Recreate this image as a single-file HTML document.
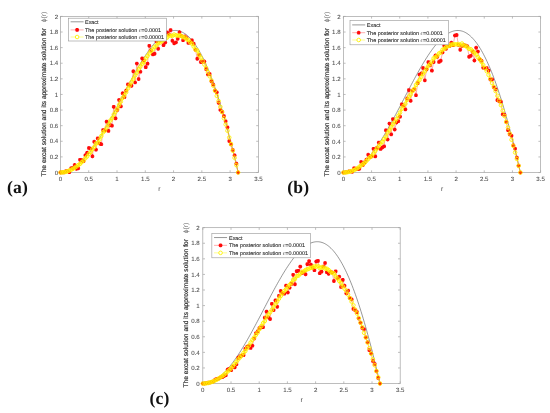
<!DOCTYPE html>
<html><head><meta charset="utf-8"><title>Figure</title>
<style>
html,body{margin:0;padding:0;background:#fff;}
body{width:550px;height:413px;overflow:hidden;}
svg{display:block;}
text{font-family:"Liberation Sans",sans-serif;fill:#3a3a3a;stroke:#3a3a3a;stroke-width:0.18px;text-rendering:geometricPrecision;}
.tl text{font-size:6.1px;fill:#505050;stroke:#505050;stroke-width:0.07px;}
.al{font-size:6.66px;fill:#2a2a2a;stroke:#2a2a2a;stroke-width:0.17px;}
.xl{fill:#444;stroke:none;}
.lg text{font-size:5.45px;fill:#222;stroke-width:0.1px;}
.phi{fill:#606060;stroke:none;}
.eps{font-style:italic;fill:#666;stroke:none;}
.pl{font-family:"Liberation Serif",serif;font-weight:bold;font-size:17.6px;fill:#111;letter-spacing:0.15px;stroke:none;}
</style></head><body>
<svg width="550" height="413" viewBox="0 0 550 413">
<defs>
<path id="st" d="M-1.9 0h3.8M0-1.9v3.8M-1.4-1.4l2.8 2.8M-1.4 1.4l2.8-2.8" stroke-width="1.1" fill="none"/>
</defs>
<rect width="550" height="413" fill="#fff"/>
<rect x="60.45" y="16.4" width="197.95" height="156.1" fill="#fff" stroke="#a8a8a8" stroke-width="0.75"/>
<path d="M60.45 172.5v-2.2M60.45 16.4v2.2M88.73 172.5v-2.2M88.73 16.4v2.2M117.01 172.5v-2.2M117.01 16.4v2.2M145.29 172.5v-2.2M145.29 16.4v2.2M173.56 172.5v-2.2M173.56 16.4v2.2M201.84 172.5v-2.2M201.84 16.4v2.2M230.12 172.5v-2.2M230.12 16.4v2.2M258.4 172.5v-2.2M258.4 16.4v2.2M60.45 172.5h2.2M258.4 172.5h-2.2M60.45 156.89h2.2M258.4 156.89h-2.2M60.45 141.28h2.2M258.4 141.28h-2.2M60.45 125.67h2.2M258.4 125.67h-2.2M60.45 110.06h2.2M258.4 110.06h-2.2M60.45 94.45h2.2M258.4 94.45h-2.2M60.45 78.84h2.2M258.4 78.84h-2.2M60.45 63.23h2.2M258.4 63.23h-2.2M60.45 47.62h2.2M258.4 47.62h-2.2M60.45 32.01h2.2M258.4 32.01h-2.2M60.45 16.4h2.2M258.4 16.4h-2.2" stroke="#a8a8a8" stroke-width="0.75" fill="none"/>
<g class="tl">
<text x="60.45" y="181.1" text-anchor="middle">0</text>
<text x="88.73" y="181.1" text-anchor="middle">0.5</text>
<text x="117.01" y="181.1" text-anchor="middle">1</text>
<text x="145.29" y="181.1" text-anchor="middle">1.5</text>
<text x="173.56" y="181.1" text-anchor="middle">2</text>
<text x="201.84" y="181.1" text-anchor="middle">2.5</text>
<text x="230.12" y="181.1" text-anchor="middle">3</text>
<text x="258.4" y="181.1" text-anchor="middle">3.5</text>
<text x="58.25" y="174.7" text-anchor="end">0</text>
<text x="58.25" y="159.09" text-anchor="end">0.2</text>
<text x="58.25" y="143.48" text-anchor="end">0.4</text>
<text x="58.25" y="127.87" text-anchor="end">0.6</text>
<text x="58.25" y="112.26" text-anchor="end">0.8</text>
<text x="58.25" y="96.65" text-anchor="end">1</text>
<text x="58.25" y="81.04" text-anchor="end">1.2</text>
<text x="58.25" y="65.43" text-anchor="end">1.4</text>
<text x="58.25" y="49.82" text-anchor="end">1.6</text>
<text x="58.25" y="34.21" text-anchor="end">1.8</text>
<text x="58.25" y="18.6" text-anchor="end">2</text>
</g>
<text class="al xl" x="159.42" y="190.5" text-anchor="middle">r</text>
<text class="al" transform="translate(45.65 176.4) rotate(-90)">The excat solution and its approximate solution for<tspan class="phi" dx="5.8">ϕ(r)</tspan></text>
<polyline points="60.45,172.5 61.57,172.47 62.68,172.38 63.8,172.23 64.92,172.01 66.04,171.74 67.15,171.41 68.27,171.01 69.39,170.56 70.51,170.04 71.62,169.47 72.74,168.84 73.86,168.15 74.98,167.41 76.09,166.6 77.21,165.74 78.33,164.83 79.45,163.86 80.56,162.83 81.68,161.76 82.8,160.63 83.92,159.44 85.03,158.21 86.15,156.93 87.27,155.6 88.39,154.22 89.5,152.8 90.62,151.33 91.74,149.81 92.86,148.25 93.97,146.65 95.09,145.01 96.21,143.34 97.33,141.62 98.44,139.87 99.56,138.08 100.68,136.26 101.8,134.4 102.91,132.52 104.03,130.61 105.15,128.67 106.27,126.7 107.38,124.71 108.5,122.7 109.62,120.66 110.74,118.61 111.85,116.54 112.97,114.46 114.09,112.36 115.21,110.25 116.32,108.12 117.44,105.99 118.56,103.86 119.68,101.72 120.79,99.57 121.91,97.43 123.03,95.28 124.15,93.14 125.26,91.01 126.38,88.88 127.5,86.75 128.62,84.64 129.73,82.55 130.85,80.46 131.97,78.4 133.09,76.35 134.2,74.32 135.32,72.31 136.44,70.33 137.56,68.37 138.67,66.45 139.79,64.55 140.91,62.68 142.03,60.85 143.14,59.05 144.26,57.3 145.38,55.58 146.5,53.9 147.61,52.27 148.73,50.68 149.85,49.13 150.97,47.64 152.08,46.2 153.2,44.81 154.32,43.47 155.44,42.19 156.55,40.97 157.67,39.8 158.79,38.7 159.91,37.66 161.02,36.68 162.14,35.77 163.26,34.93 164.38,34.15 165.49,33.45 166.61,32.81 167.73,32.25 168.85,31.77 169.96,31.35 171.08,31.02 172.2,30.76 173.32,30.59 174.43,30.49 175.55,30.48 176.67,30.54 177.79,30.7 178.9,30.93 180.02,31.26 181.14,31.66 182.26,32.16 183.37,32.75 184.49,33.42 185.61,34.18 186.73,35.04 187.84,35.98 188.96,37.02 190.08,38.15 191.2,39.37 192.31,40.69 193.43,42.1 194.55,43.6 195.67,45.19 196.78,46.89 197.9,48.67 199.02,50.55 200.14,52.52 201.25,54.59 202.37,56.76 203.49,59.01 204.61,61.36 205.72,63.81 206.84,66.35 207.96,68.98 209.07,71.71 210.19,74.52 211.31,77.43 212.43,80.44 213.54,83.53 214.66,86.71 215.78,89.98 216.9,93.34 218.01,96.79 219.13,100.32 220.25,103.94 221.37,107.64 222.48,111.43 223.6,115.3 224.72,119.25 225.84,123.28 226.95,127.39 228.07,131.58 229.19,135.84 230.31,140.18 231.42,144.59 232.54,149.08 233.66,153.63 234.78,158.25 235.89,162.93 237.01,167.69 238.13,172.5" fill="none" stroke="#505050" stroke-width="0.6"/>
<polyline points="60.45,172.5 62.23,172.4 64,172.32 65.78,171.23 67.56,171.04 69.33,172.09 71.11,168.18 72.89,167.97 74.66,164.93 76.44,168.75 78.22,168.29 79.99,159.81 81.77,160.04 83.55,161.21 85.33,155.2 87.1,152.9 88.88,147.95 90.66,148.57 92.43,156.24 94.21,141.69 95.99,149.67 97.76,138.36 99.54,143.57 101.32,144.2 103.09,130.07 104.87,130.36 106.65,121.64 108.42,130.88 110.2,125.08 111.98,125.68 113.75,106.83 115.53,118.36 117.31,110.02 119.08,99.92 120.86,106.37 122.64,93.21 124.41,97.11 126.19,90.65 127.97,84.4 129.75,85.21 131.52,85.8 133.3,71.24 135.08,82.44 136.85,63.53 138.63,79.05 140.41,71.72 142.18,58.4 143.96,60.41 145.74,67.16 147.51,63.6 149.29,45.8 151.07,50.34 152.84,54.41 154.62,53.74 156.4,41.15 158.17,48.79 159.95,40.54 161.73,32.4 163.5,45.09 165.28,42.49 167.06,32.37 168.83,34.21 170.61,30.03 172.39,40.73 174.16,43.32 175.94,42.42 177.72,38.74 179.5,32.18 181.27,35.99 183.05,40.18 184.83,36.41 186.6,37.97 188.38,42.88 190.16,42.35 191.93,40.25 193.71,43.72 195.49,49.82 197.26,58.77 199.04,54.89 200.82,62.02 202.59,61.64 204.37,61.48 206.15,69.12 207.92,74.45 209.7,73.97 211.48,81.38 213.25,84.51 215.03,90.45 216.81,92.33 218.58,102.77 220.36,109.84 222.14,111.88 223.92,116.09 225.69,121.2 227.47,127.35 229.25,140.98 231.02,144.35 232.8,149.96 234.58,155.34 236.35,163.53 238.13,172.5" fill="none" stroke="#ff3030" stroke-width="0.4"/>
<g stroke="#ff0a0a">
<use href="#st" x="60.45" y="172.5"/>
<use href="#st" x="62.23" y="172.4"/>
<use href="#st" x="64" y="172.32"/>
<use href="#st" x="65.78" y="171.23"/>
<use href="#st" x="67.56" y="171.04"/>
<use href="#st" x="69.33" y="172.09"/>
<use href="#st" x="71.11" y="168.18"/>
<use href="#st" x="72.89" y="167.97"/>
<use href="#st" x="74.66" y="164.93"/>
<use href="#st" x="76.44" y="168.75"/>
<use href="#st" x="78.22" y="168.29"/>
<use href="#st" x="79.99" y="159.81"/>
<use href="#st" x="81.77" y="160.04"/>
<use href="#st" x="83.55" y="161.21"/>
<use href="#st" x="85.33" y="155.2"/>
<use href="#st" x="87.1" y="152.9"/>
<use href="#st" x="88.88" y="147.95"/>
<use href="#st" x="90.66" y="148.57"/>
<use href="#st" x="92.43" y="156.24"/>
<use href="#st" x="94.21" y="141.69"/>
<use href="#st" x="95.99" y="149.67"/>
<use href="#st" x="97.76" y="138.36"/>
<use href="#st" x="99.54" y="143.57"/>
<use href="#st" x="101.32" y="144.2"/>
<use href="#st" x="103.09" y="130.07"/>
<use href="#st" x="104.87" y="130.36"/>
<use href="#st" x="106.65" y="121.64"/>
<use href="#st" x="108.42" y="130.88"/>
<use href="#st" x="110.2" y="125.08"/>
<use href="#st" x="111.98" y="125.68"/>
<use href="#st" x="113.75" y="106.83"/>
<use href="#st" x="115.53" y="118.36"/>
<use href="#st" x="117.31" y="110.02"/>
<use href="#st" x="119.08" y="99.92"/>
<use href="#st" x="120.86" y="106.37"/>
<use href="#st" x="122.64" y="93.21"/>
<use href="#st" x="124.41" y="97.11"/>
<use href="#st" x="126.19" y="90.65"/>
<use href="#st" x="127.97" y="84.4"/>
<use href="#st" x="129.75" y="85.21"/>
<use href="#st" x="131.52" y="85.8"/>
<use href="#st" x="133.3" y="71.24"/>
<use href="#st" x="135.08" y="82.44"/>
<use href="#st" x="136.85" y="63.53"/>
<use href="#st" x="138.63" y="79.05"/>
<use href="#st" x="140.41" y="71.72"/>
<use href="#st" x="142.18" y="58.4"/>
<use href="#st" x="143.96" y="60.41"/>
<use href="#st" x="145.74" y="67.16"/>
<use href="#st" x="147.51" y="63.6"/>
<use href="#st" x="149.29" y="45.8"/>
<use href="#st" x="151.07" y="50.34"/>
<use href="#st" x="152.84" y="54.41"/>
<use href="#st" x="154.62" y="53.74"/>
<use href="#st" x="156.4" y="41.15"/>
<use href="#st" x="158.17" y="48.79"/>
<use href="#st" x="159.95" y="40.54"/>
<use href="#st" x="161.73" y="32.4"/>
<use href="#st" x="163.5" y="45.09"/>
<use href="#st" x="165.28" y="42.49"/>
<use href="#st" x="167.06" y="32.37"/>
<use href="#st" x="168.83" y="34.21"/>
<use href="#st" x="170.61" y="30.03"/>
<use href="#st" x="172.39" y="40.73"/>
<use href="#st" x="174.16" y="43.32"/>
<use href="#st" x="175.94" y="42.42"/>
<use href="#st" x="177.72" y="38.74"/>
<use href="#st" x="179.5" y="32.18"/>
<use href="#st" x="181.27" y="35.99"/>
<use href="#st" x="183.05" y="40.18"/>
<use href="#st" x="184.83" y="36.41"/>
<use href="#st" x="186.6" y="37.97"/>
<use href="#st" x="188.38" y="42.88"/>
<use href="#st" x="190.16" y="42.35"/>
<use href="#st" x="191.93" y="40.25"/>
<use href="#st" x="193.71" y="43.72"/>
<use href="#st" x="195.49" y="49.82"/>
<use href="#st" x="197.26" y="58.77"/>
<use href="#st" x="199.04" y="54.89"/>
<use href="#st" x="200.82" y="62.02"/>
<use href="#st" x="202.59" y="61.64"/>
<use href="#st" x="204.37" y="61.48"/>
<use href="#st" x="206.15" y="69.12"/>
<use href="#st" x="207.92" y="74.45"/>
<use href="#st" x="209.7" y="73.97"/>
<use href="#st" x="211.48" y="81.38"/>
<use href="#st" x="213.25" y="84.51"/>
<use href="#st" x="215.03" y="90.45"/>
<use href="#st" x="216.81" y="92.33"/>
<use href="#st" x="218.58" y="102.77"/>
<use href="#st" x="220.36" y="109.84"/>
<use href="#st" x="222.14" y="111.88"/>
<use href="#st" x="223.92" y="116.09"/>
<use href="#st" x="225.69" y="121.2"/>
<use href="#st" x="227.47" y="127.35"/>
<use href="#st" x="229.25" y="140.98"/>
<use href="#st" x="231.02" y="144.35"/>
<use href="#st" x="232.8" y="149.96"/>
<use href="#st" x="234.58" y="155.34"/>
<use href="#st" x="236.35" y="163.53"/>
<use href="#st" x="238.13" y="172.5"/>
</g>
<polyline points="60.45,172.5 62.23,172.42 64,172.21 65.78,171.93 67.56,171.25 69.33,170.47 71.11,169.79 72.89,168.89 74.66,167.8 76.44,166.56 78.22,165.16 79.99,163.93 81.77,162.16 83.55,160.55 85.33,158.27 87.1,156.45 88.88,154 90.66,152.04 92.43,149.15 94.21,147.05 95.99,143.57 97.76,142.84 99.54,139.52 101.32,135.98 103.09,132.32 104.87,130.66 106.65,127.49 108.42,124.53 110.2,120.67 111.98,118.25 113.75,114.57 115.53,111.79 117.31,108.97 119.08,104.93 120.86,101.55 122.64,97.87 124.41,95.24 126.19,92.19 127.97,88.38 129.75,85.29 131.52,82.07 133.3,79.08 135.08,75.4 136.85,72.72 138.63,69.02 140.41,66.49 142.18,63.87 143.96,62.2 145.74,58.51 147.51,56.06 149.29,53.44 151.07,51.02 152.84,49.51 154.62,46.87 156.4,45.6 158.17,42.65 159.95,42.56 161.73,41.29 163.5,39.93 165.28,38.44 167.06,37.58 168.83,35.36 170.61,35.83 172.39,35.89 174.16,34.53 175.94,35.31 177.72,35.8 179.5,35.21 181.27,35.93 183.05,37.25 184.83,37.42 186.6,39.28 188.38,40.07 190.16,42.29 191.93,43.73 193.71,46.57 195.49,49.59 197.26,50.54 199.04,54.72 200.82,57.65" fill="none" stroke="#ffff00" stroke-width="2.4" stroke-opacity="0.4" stroke-linejoin="round" stroke-linecap="round"/>
<polyline points="60.45,172.5 62.23,172.42 64,172.21 65.78,171.93 67.56,171.25 69.33,170.47 71.11,169.79 72.89,168.89 74.66,167.8 76.44,166.56 78.22,165.16 79.99,163.93 81.77,162.16 83.55,160.55 85.33,158.27 87.1,156.45 88.88,154 90.66,152.04 92.43,149.15 94.21,147.05 95.99,143.57 97.76,142.84 99.54,139.52 101.32,135.98 103.09,132.32 104.87,130.66 106.65,127.49 108.42,124.53 110.2,120.67 111.98,118.25 113.75,114.57 115.53,111.79 117.31,108.97 119.08,104.93 120.86,101.55 122.64,97.87 124.41,95.24 126.19,92.19 127.97,88.38 129.75,85.29 131.52,82.07 133.3,79.08 135.08,75.4 136.85,72.72 138.63,69.02 140.41,66.49 142.18,63.87 143.96,62.2 145.74,58.51 147.51,56.06 149.29,53.44 151.07,51.02 152.84,49.51 154.62,46.87 156.4,45.6 158.17,42.65 159.95,42.56 161.73,41.29 163.5,39.93 165.28,38.44 167.06,37.58 168.83,35.36 170.61,35.83 172.39,35.89 174.16,34.53 175.94,35.31 177.72,35.8 179.5,35.21 181.27,35.93 183.05,37.25 184.83,37.42 186.6,39.28 188.38,40.07 190.16,42.29 191.93,43.73 193.71,46.57 195.49,49.59 197.26,50.54 199.04,54.72 200.82,57.65 202.59,61.14 204.37,64.5 206.15,68.14 207.92,72.17 209.7,76.3 211.48,80.53 213.25,85.61 215.03,90.75 216.81,95.86 218.58,101.08 220.36,106.84 222.14,112.07 223.92,118.3 225.69,124.41 227.47,130.69 229.25,137.52 231.02,144.12 232.8,150.7 234.58,157.8 236.35,165.16 238.13,172.5" fill="none" stroke="#ffff00" stroke-width="0.45"/>
<g fill="none" stroke="#fff200" stroke-width="0.9">
<circle cx="60.45" cy="172.5" r="1.8"/>
<circle cx="62.23" cy="172.42" r="1.8"/>
<circle cx="64" cy="172.21" r="1.8"/>
<circle cx="65.78" cy="171.93" r="1.8"/>
<circle cx="67.56" cy="171.25" r="1.8"/>
<circle cx="69.33" cy="170.47" r="1.8"/>
<circle cx="71.11" cy="169.79" r="1.8"/>
<circle cx="72.89" cy="168.89" r="1.8"/>
<circle cx="74.66" cy="167.8" r="1.8"/>
<circle cx="76.44" cy="166.56" r="1.8"/>
<circle cx="78.22" cy="165.16" r="1.8"/>
<circle cx="79.99" cy="163.93" r="1.8"/>
<circle cx="81.77" cy="162.16" r="1.8"/>
<circle cx="83.55" cy="160.55" r="1.8"/>
<circle cx="85.33" cy="158.27" r="1.8"/>
<circle cx="87.1" cy="156.45" r="1.8"/>
<circle cx="88.88" cy="154" r="1.8"/>
<circle cx="90.66" cy="152.04" r="1.8"/>
<circle cx="92.43" cy="149.15" r="1.8"/>
<circle cx="94.21" cy="147.05" r="1.8"/>
<circle cx="95.99" cy="143.57" r="1.8"/>
<circle cx="97.76" cy="142.84" r="1.8"/>
<circle cx="99.54" cy="139.52" r="1.8"/>
<circle cx="101.32" cy="135.98" r="1.8"/>
<circle cx="103.09" cy="132.32" r="1.8"/>
<circle cx="104.87" cy="130.66" r="1.8"/>
<circle cx="106.65" cy="127.49" r="1.8"/>
<circle cx="108.42" cy="124.53" r="1.8"/>
<circle cx="110.2" cy="120.67" r="1.8"/>
<circle cx="111.98" cy="118.25" r="1.8"/>
<circle cx="113.75" cy="114.57" r="1.8"/>
<circle cx="115.53" cy="111.79" r="1.8"/>
<circle cx="117.31" cy="108.97" r="1.8"/>
<circle cx="119.08" cy="104.93" r="1.8"/>
<circle cx="120.86" cy="101.55" r="1.8"/>
<circle cx="122.64" cy="97.87" r="1.8"/>
<circle cx="124.41" cy="95.24" r="1.8"/>
<circle cx="126.19" cy="92.19" r="1.8"/>
<circle cx="127.97" cy="88.38" r="1.8"/>
<circle cx="129.75" cy="85.29" r="1.8"/>
<circle cx="131.52" cy="82.07" r="1.8"/>
<circle cx="133.3" cy="79.08" r="1.8"/>
<circle cx="135.08" cy="75.4" r="1.8"/>
<circle cx="136.85" cy="72.72" r="1.8"/>
<circle cx="138.63" cy="69.02" r="1.8"/>
<circle cx="140.41" cy="66.49" r="1.8"/>
<circle cx="142.18" cy="63.87" r="1.8"/>
<circle cx="143.96" cy="62.2" r="1.8"/>
<circle cx="145.74" cy="58.51" r="1.8"/>
<circle cx="147.51" cy="56.06" r="1.8"/>
<circle cx="149.29" cy="53.44" r="1.8"/>
<circle cx="151.07" cy="51.02" r="1.8"/>
<circle cx="152.84" cy="49.51" r="1.8"/>
<circle cx="154.62" cy="46.87" r="1.8"/>
<circle cx="156.4" cy="45.6" r="1.8"/>
<circle cx="158.17" cy="42.65" r="1.8"/>
<circle cx="159.95" cy="42.56" r="1.8"/>
<circle cx="161.73" cy="41.29" r="1.8"/>
<circle cx="163.5" cy="39.93" r="1.8"/>
<circle cx="165.28" cy="38.44" r="1.8"/>
<circle cx="167.06" cy="37.58" r="1.8"/>
<circle cx="168.83" cy="35.36" r="1.8"/>
<circle cx="170.61" cy="35.83" r="1.8"/>
<circle cx="172.39" cy="35.89" r="1.8"/>
<circle cx="174.16" cy="34.53" r="1.8"/>
<circle cx="175.94" cy="35.31" r="1.8"/>
<circle cx="177.72" cy="35.8" r="1.8"/>
<circle cx="179.5" cy="35.21" r="1.8"/>
<circle cx="181.27" cy="35.93" r="1.8"/>
<circle cx="183.05" cy="37.25" r="1.8"/>
<circle cx="184.83" cy="37.42" r="1.8"/>
<circle cx="186.6" cy="39.28" r="1.8"/>
<circle cx="188.38" cy="40.07" r="1.8"/>
<circle cx="190.16" cy="42.29" r="1.8"/>
<circle cx="191.93" cy="43.73" r="1.8"/>
<circle cx="193.71" cy="46.57" r="1.8"/>
<circle cx="195.49" cy="49.59" r="1.8"/>
<circle cx="197.26" cy="50.54" r="1.8"/>
<circle cx="199.04" cy="54.72" r="1.8"/>
<circle cx="200.82" cy="57.65" r="1.8"/>
<circle cx="202.59" cy="61.14" r="1.8"/>
<circle cx="204.37" cy="64.5" r="1.8"/>
<circle cx="206.15" cy="68.14" r="1.8"/>
<circle cx="207.92" cy="72.17" r="1.8"/>
<circle cx="209.7" cy="76.3" r="1.8"/>
<circle cx="211.48" cy="80.53" r="1.8"/>
<circle cx="213.25" cy="85.61" r="1.8"/>
<circle cx="215.03" cy="90.75" r="1.8"/>
<circle cx="216.81" cy="95.86" r="1.8"/>
<circle cx="218.58" cy="101.08" r="1.8"/>
<circle cx="220.36" cy="106.84" r="1.8"/>
<circle cx="222.14" cy="112.07" r="1.8"/>
<circle cx="223.92" cy="118.3" r="1.8"/>
<circle cx="225.69" cy="124.41" r="1.8"/>
<circle cx="227.47" cy="130.69" r="1.8"/>
<circle cx="229.25" cy="137.52" r="1.8"/>
<circle cx="231.02" cy="144.12" r="1.8"/>
<circle cx="232.8" cy="150.7" r="1.8"/>
<circle cx="234.58" cy="157.8" r="1.8"/>
<circle cx="236.35" cy="165.16" r="1.8"/>
<circle cx="238.13" cy="172.5" r="1.8"/>
</g>
<rect x="68.4" y="18.2" width="97.9" height="22.8" fill="#fff" stroke="#959595" stroke-width="0.6"/>
<path d="M70.6 21.8h13.0" stroke="#505050" stroke-width="0.6"/>
<path d="M70.6 29.9h13.0" stroke="#ff3030" stroke-width="0.4"/>
<use href="#st" x="77.1" y="29.9" stroke="#ff0a0a"/>
<path d="M70.6 37h13.0" stroke="#ffff00" stroke-width="0.45"/>
<circle cx="77.1" cy="37" r="1.8" fill="#fff" stroke="#fff200" stroke-width="0.9"/>
<g class="lg">
<text x="85" y="23.75">Exact</text>
<text x="85" y="31.85">The posterior solution <tspan class="eps">ϵ</tspan>=0.0001</text>
<text x="85" y="38.95">The posterior solution <tspan class="eps">ϵ</tspan>=0.00001</text>
</g>
<text class="pl" x="7.0" y="192.8">(a)</text>
<rect x="343.4" y="16.4" width="197.2" height="156.15" fill="#fff" stroke="#a8a8a8" stroke-width="0.75"/>
<path d="M343.4 172.55v-2.2M343.4 16.4v2.2M371.57 172.55v-2.2M371.57 16.4v2.2M399.74 172.55v-2.2M399.74 16.4v2.2M427.91 172.55v-2.2M427.91 16.4v2.2M456.09 172.55v-2.2M456.09 16.4v2.2M484.26 172.55v-2.2M484.26 16.4v2.2M512.43 172.55v-2.2M512.43 16.4v2.2M540.6 172.55v-2.2M540.6 16.4v2.2M343.4 172.55h2.2M540.6 172.55h-2.2M343.4 156.94h2.2M540.6 156.94h-2.2M343.4 141.32h2.2M540.6 141.32h-2.2M343.4 125.71h2.2M540.6 125.71h-2.2M343.4 110.09h2.2M540.6 110.09h-2.2M343.4 94.48h2.2M540.6 94.48h-2.2M343.4 78.86h2.2M540.6 78.86h-2.2M343.4 63.24h2.2M540.6 63.24h-2.2M343.4 47.63h2.2M540.6 47.63h-2.2M343.4 32.02h2.2M540.6 32.02h-2.2M343.4 16.4h2.2M540.6 16.4h-2.2" stroke="#a8a8a8" stroke-width="0.75" fill="none"/>
<g class="tl">
<text x="343.4" y="181.15" text-anchor="middle">0</text>
<text x="371.57" y="181.15" text-anchor="middle">0.5</text>
<text x="399.74" y="181.15" text-anchor="middle">1</text>
<text x="427.91" y="181.15" text-anchor="middle">1.5</text>
<text x="456.09" y="181.15" text-anchor="middle">2</text>
<text x="484.26" y="181.15" text-anchor="middle">2.5</text>
<text x="512.43" y="181.15" text-anchor="middle">3</text>
<text x="540.6" y="181.15" text-anchor="middle">3.5</text>
<text x="340.55" y="174.75" text-anchor="end">0</text>
<text x="340.55" y="159.13" text-anchor="end">0.2</text>
<text x="340.55" y="143.52" text-anchor="end">0.4</text>
<text x="340.55" y="127.91" text-anchor="end">0.6</text>
<text x="340.55" y="112.29" text-anchor="end">0.8</text>
<text x="340.55" y="96.68" text-anchor="end">1</text>
<text x="340.55" y="81.06" text-anchor="end">1.2</text>
<text x="340.55" y="65.44" text-anchor="end">1.4</text>
<text x="340.55" y="49.83" text-anchor="end">1.6</text>
<text x="340.55" y="34.22" text-anchor="end">1.8</text>
<text x="340.55" y="18.6" text-anchor="end">2</text>
</g>
<text class="al xl" x="442" y="190.55" text-anchor="middle">r</text>
<text class="al" transform="translate(328.6 176.45) rotate(-90)">The excat solution and its approximate solution for<tspan class="phi" dx="5.8">ϕ(r)</tspan></text>
<polyline points="343.4,172.55 344.51,172.52 345.63,172.43 346.74,172.28 347.85,172.06 348.97,171.79 350.08,171.46 351.19,171.06 352.31,170.61 353.42,170.09 354.53,169.52 355.65,168.89 356.76,168.2 357.87,167.46 358.99,166.65 360.1,165.79 361.21,164.88 362.33,163.91 363.44,162.88 364.55,161.8 365.66,160.67 366.78,159.49 367.89,158.26 369,156.98 370.12,155.64 371.23,154.27 372.34,152.84 373.46,151.37 374.57,149.85 375.68,148.3 376.8,146.7 377.91,145.06 379.02,143.38 380.14,141.66 381.25,139.91 382.36,138.12 383.48,136.3 384.59,134.44 385.7,132.56 386.82,130.64 387.93,128.7 389.04,126.74 390.16,124.75 391.27,122.73 392.38,120.7 393.5,118.64 394.61,116.57 395.72,114.49 396.84,112.39 397.95,110.28 399.06,108.15 400.18,106.02 401.29,103.89 402.4,101.74 403.52,99.6 404.63,97.45 405.74,95.31 406.86,93.17 407.97,91.03 409.08,88.9 410.19,86.78 411.31,84.67 412.42,82.57 413.53,80.48 414.65,78.41 415.76,76.37 416.87,74.34 417.99,72.33 419.1,70.35 420.21,68.39 421.33,66.46 422.44,64.56 423.55,62.7 424.67,60.86 425.78,59.07 426.89,57.31 428.01,55.59 429.12,53.91 430.23,52.28 431.35,50.69 432.46,49.14 433.57,47.65 434.69,46.21 435.8,44.82 436.91,43.48 438.03,42.2 439.14,40.98 440.25,39.81 441.37,38.71 442.48,37.67 443.59,36.69 444.71,35.78 445.82,34.93 446.93,34.16 448.05,33.45 449.16,32.82 450.27,32.26 451.38,31.77 452.5,31.36 453.61,31.02 454.72,30.77 455.84,30.59 456.95,30.5 458.06,30.48 459.18,30.55 460.29,30.7 461.4,30.94 462.52,31.26 463.63,31.67 464.74,32.17 465.86,32.75 466.97,33.43 468.08,34.19 469.2,35.04 470.31,35.99 471.42,37.03 472.54,38.16 473.65,39.38 474.76,40.69 475.88,42.1 476.99,43.61 478.1,45.2 479.22,46.89 480.33,48.68 481.44,50.56 482.56,52.54 483.67,54.6 484.78,56.77 485.9,59.03 487.01,61.38 488.12,63.83 489.24,66.37 490.35,69 491.46,71.72 492.58,74.54 493.69,77.45 494.8,80.46 495.91,83.55 497.03,86.73 498.14,90 499.25,93.36 500.37,96.81 501.48,100.35 502.59,103.97 503.71,107.67 504.82,111.46 505.93,115.33 507.05,119.29 508.16,123.32 509.27,127.43 510.39,131.62 511.5,135.88 512.61,140.22 513.73,144.63 514.84,149.12 515.95,153.67 517.07,158.29 518.18,162.98 519.29,167.73 520.41,172.55" fill="none" stroke="#505050" stroke-width="0.6"/>
<polyline points="343.4,172.55 345.17,172.35 346.94,172.04 348.71,171.43 350.48,171.33 352.25,171.76 354.02,168.22 355.79,168.66 357.56,169.13 359.33,168.78 361.1,162.02 362.87,165.08 364.64,162.28 366.41,159.7 368.18,154.72 369.95,157.08 371.72,156.38 373.49,148.79 375.26,156.35 377.03,147.88 378.8,142.53 380.57,148.91 382.34,147.5 384.11,146.35 385.88,130.18 387.65,139.51 389.42,123.56 391.19,134.34 392.96,119.14 394.73,129.53 396.5,122.52 398.27,121.14 400.04,116.65 401.81,104.28 403.58,105.37 405.35,109.34 407.12,98.49 408.89,90.06 410.66,100.83 412.43,90.51 414.2,89.17 415.97,95.21 417.74,83.12 419.51,74.58 421.28,73.52 423.05,67.95 424.82,80.28 426.59,69.5 428.36,62.1 430.13,65.13 431.9,70.6 433.67,62.06 435.44,55.47 437.21,56.83 438.98,61.97 440.75,60.74 442.52,52.36 444.29,45.65 446.06,48.75 447.83,45.35 449.6,45.97 451.37,42.67 453.14,45.17 454.91,35.48 456.68,35.01 458.45,44.86 460.22,49.74 461.99,45.85 463.76,45.15 465.53,45.58 467.3,46.2 469.07,56.81 470.84,55.82 472.61,51.84 474.38,60.48 476.15,47.67 477.92,51.53 479.69,59.34 481.46,60.67 483.23,67.64 485.01,68.33 486.78,68.07 488.55,70.63 490.32,79.57 492.09,79.39 493.86,87.28 495.63,89.28 497.4,100.09 499.17,101.29 500.94,101.69 502.71,114.24 504.48,114.71 506.25,122.04 508.02,130.09 509.79,134.39 511.56,135.78 513.33,145.19 515.1,148.72 516.87,157.57 518.64,165.64 520.41,172.55" fill="none" stroke="#ff3030" stroke-width="0.4"/>
<g stroke="#ff0a0a">
<use href="#st" x="343.4" y="172.55"/>
<use href="#st" x="345.17" y="172.35"/>
<use href="#st" x="346.94" y="172.04"/>
<use href="#st" x="348.71" y="171.43"/>
<use href="#st" x="350.48" y="171.33"/>
<use href="#st" x="352.25" y="171.76"/>
<use href="#st" x="354.02" y="168.22"/>
<use href="#st" x="355.79" y="168.66"/>
<use href="#st" x="357.56" y="169.13"/>
<use href="#st" x="359.33" y="168.78"/>
<use href="#st" x="361.1" y="162.02"/>
<use href="#st" x="362.87" y="165.08"/>
<use href="#st" x="364.64" y="162.28"/>
<use href="#st" x="366.41" y="159.7"/>
<use href="#st" x="368.18" y="154.72"/>
<use href="#st" x="369.95" y="157.08"/>
<use href="#st" x="371.72" y="156.38"/>
<use href="#st" x="373.49" y="148.79"/>
<use href="#st" x="375.26" y="156.35"/>
<use href="#st" x="377.03" y="147.88"/>
<use href="#st" x="378.8" y="142.53"/>
<use href="#st" x="380.57" y="148.91"/>
<use href="#st" x="382.34" y="147.5"/>
<use href="#st" x="384.11" y="146.35"/>
<use href="#st" x="385.88" y="130.18"/>
<use href="#st" x="387.65" y="139.51"/>
<use href="#st" x="389.42" y="123.56"/>
<use href="#st" x="391.19" y="134.34"/>
<use href="#st" x="392.96" y="119.14"/>
<use href="#st" x="394.73" y="129.53"/>
<use href="#st" x="396.5" y="122.52"/>
<use href="#st" x="398.27" y="121.14"/>
<use href="#st" x="400.04" y="116.65"/>
<use href="#st" x="401.81" y="104.28"/>
<use href="#st" x="403.58" y="105.37"/>
<use href="#st" x="405.35" y="109.34"/>
<use href="#st" x="407.12" y="98.49"/>
<use href="#st" x="408.89" y="90.06"/>
<use href="#st" x="410.66" y="100.83"/>
<use href="#st" x="412.43" y="90.51"/>
<use href="#st" x="414.2" y="89.17"/>
<use href="#st" x="415.97" y="95.21"/>
<use href="#st" x="417.74" y="83.12"/>
<use href="#st" x="419.51" y="74.58"/>
<use href="#st" x="421.28" y="73.52"/>
<use href="#st" x="423.05" y="67.95"/>
<use href="#st" x="424.82" y="80.28"/>
<use href="#st" x="426.59" y="69.5"/>
<use href="#st" x="428.36" y="62.1"/>
<use href="#st" x="430.13" y="65.13"/>
<use href="#st" x="431.9" y="70.6"/>
<use href="#st" x="433.67" y="62.06"/>
<use href="#st" x="435.44" y="55.47"/>
<use href="#st" x="437.21" y="56.83"/>
<use href="#st" x="438.98" y="61.97"/>
<use href="#st" x="440.75" y="60.74"/>
<use href="#st" x="442.52" y="52.36"/>
<use href="#st" x="444.29" y="45.65"/>
<use href="#st" x="446.06" y="48.75"/>
<use href="#st" x="447.83" y="45.35"/>
<use href="#st" x="449.6" y="45.97"/>
<use href="#st" x="451.37" y="42.67"/>
<use href="#st" x="453.14" y="45.17"/>
<use href="#st" x="454.91" y="35.48"/>
<use href="#st" x="456.68" y="35.01"/>
<use href="#st" x="458.45" y="44.86"/>
<use href="#st" x="460.22" y="49.74"/>
<use href="#st" x="461.99" y="45.85"/>
<use href="#st" x="463.76" y="45.15"/>
<use href="#st" x="465.53" y="45.58"/>
<use href="#st" x="467.3" y="46.2"/>
<use href="#st" x="469.07" y="56.81"/>
<use href="#st" x="470.84" y="55.82"/>
<use href="#st" x="472.61" y="51.84"/>
<use href="#st" x="474.38" y="60.48"/>
<use href="#st" x="476.15" y="47.67"/>
<use href="#st" x="477.92" y="51.53"/>
<use href="#st" x="479.69" y="59.34"/>
<use href="#st" x="481.46" y="60.67"/>
<use href="#st" x="483.23" y="67.64"/>
<use href="#st" x="485.01" y="68.33"/>
<use href="#st" x="486.78" y="68.07"/>
<use href="#st" x="488.55" y="70.63"/>
<use href="#st" x="490.32" y="79.57"/>
<use href="#st" x="492.09" y="79.39"/>
<use href="#st" x="493.86" y="87.28"/>
<use href="#st" x="495.63" y="89.28"/>
<use href="#st" x="497.4" y="100.09"/>
<use href="#st" x="499.17" y="101.29"/>
<use href="#st" x="500.94" y="101.69"/>
<use href="#st" x="502.71" y="114.24"/>
<use href="#st" x="504.48" y="114.71"/>
<use href="#st" x="506.25" y="122.04"/>
<use href="#st" x="508.02" y="130.09"/>
<use href="#st" x="509.79" y="134.39"/>
<use href="#st" x="511.56" y="135.78"/>
<use href="#st" x="513.33" y="145.19"/>
<use href="#st" x="515.1" y="148.72"/>
<use href="#st" x="516.87" y="157.57"/>
<use href="#st" x="518.64" y="165.64"/>
<use href="#st" x="520.41" y="172.55"/>
</g>
<polyline points="343.4,172.55 345.17,172.5 346.94,172.26 348.71,171.89 350.48,171.46 352.25,170.88 354.02,170.01 355.79,169.2 357.56,168.22 359.33,166.76 361.1,165.4 362.87,164.2 364.64,162.86 366.41,160.92 368.18,159.02 369.95,157.18 371.72,156.01 373.49,153.47 375.26,150.95 377.03,148.53 378.8,145.98 380.57,143.59 382.34,141.92 384.11,139.08 385.88,136.61 387.65,132.42 389.42,130.35 391.19,127.28 392.96,124.12 394.73,121.78 396.5,119.15 398.27,115.77 400.04,112.58 401.81,108.73 403.58,105.93 405.35,103.76 407.12,99.85 408.89,96.75 410.66,94.53 412.43,91.06 414.2,88.88 415.97,84.9 417.74,82.3 419.51,79.93 421.28,76.83 423.05,73.67 424.82,71.39 426.59,68.43 428.36,65.83 430.13,64.11 431.9,61.58 433.67,58.27 435.44,57.17 437.21,55.69 438.98,53.47 440.75,52.46 442.52,49.78 444.29,48.76 446.06,47.2 447.83,46.22 449.6,45.56 451.37,44.55 453.14,44.36 454.91,44.37 456.68,44.34 458.45,44.06 460.22,45.2 461.99,43.54 463.76,45.76 465.53,45.77 467.3,47.32 469.07,48.83 470.84,49.31 472.61,51.01 474.38,52.75 476.15,54.44 477.92,57.23 479.69,59.22 481.46,61.85 483.23,65.08" fill="none" stroke="#ffff00" stroke-width="2.4" stroke-opacity="0.4" stroke-linejoin="round" stroke-linecap="round"/>
<polyline points="343.4,172.55 345.17,172.5 346.94,172.26 348.71,171.89 350.48,171.46 352.25,170.88 354.02,170.01 355.79,169.2 357.56,168.22 359.33,166.76 361.1,165.4 362.87,164.2 364.64,162.86 366.41,160.92 368.18,159.02 369.95,157.18 371.72,156.01 373.49,153.47 375.26,150.95 377.03,148.53 378.8,145.98 380.57,143.59 382.34,141.92 384.11,139.08 385.88,136.61 387.65,132.42 389.42,130.35 391.19,127.28 392.96,124.12 394.73,121.78 396.5,119.15 398.27,115.77 400.04,112.58 401.81,108.73 403.58,105.93 405.35,103.76 407.12,99.85 408.89,96.75 410.66,94.53 412.43,91.06 414.2,88.88 415.97,84.9 417.74,82.3 419.51,79.93 421.28,76.83 423.05,73.67 424.82,71.39 426.59,68.43 428.36,65.83 430.13,64.11 431.9,61.58 433.67,58.27 435.44,57.17 437.21,55.69 438.98,53.47 440.75,52.46 442.52,49.78 444.29,48.76 446.06,47.2 447.83,46.22 449.6,45.56 451.37,44.55 453.14,44.36 454.91,44.37 456.68,44.34 458.45,44.06 460.22,45.2 461.99,43.54 463.76,45.76 465.53,45.77 467.3,47.32 469.07,48.83 470.84,49.31 472.61,51.01 474.38,52.75 476.15,54.44 477.92,57.23 479.69,59.22 481.46,61.85 483.23,65.08 485.01,68.15 486.78,71.2 488.55,74.89 490.32,78.62 492.09,83.15 493.86,86.78 495.63,91.1 497.4,95.8 499.17,100.49 500.94,105.15 502.71,110.73 504.48,115.99 506.25,121.89 508.02,127.65 509.79,133.51 511.56,139.74 513.33,145.81 515.1,152.46 516.87,158.9 518.64,165.78 520.41,172.55" fill="none" stroke="#ffff00" stroke-width="0.45"/>
<g fill="none" stroke="#fff200" stroke-width="0.9">
<circle cx="343.4" cy="172.55" r="1.8"/>
<circle cx="345.17" cy="172.5" r="1.8"/>
<circle cx="346.94" cy="172.26" r="1.8"/>
<circle cx="348.71" cy="171.89" r="1.8"/>
<circle cx="350.48" cy="171.46" r="1.8"/>
<circle cx="352.25" cy="170.88" r="1.8"/>
<circle cx="354.02" cy="170.01" r="1.8"/>
<circle cx="355.79" cy="169.2" r="1.8"/>
<circle cx="357.56" cy="168.22" r="1.8"/>
<circle cx="359.33" cy="166.76" r="1.8"/>
<circle cx="361.1" cy="165.4" r="1.8"/>
<circle cx="362.87" cy="164.2" r="1.8"/>
<circle cx="364.64" cy="162.86" r="1.8"/>
<circle cx="366.41" cy="160.92" r="1.8"/>
<circle cx="368.18" cy="159.02" r="1.8"/>
<circle cx="369.95" cy="157.18" r="1.8"/>
<circle cx="371.72" cy="156.01" r="1.8"/>
<circle cx="373.49" cy="153.47" r="1.8"/>
<circle cx="375.26" cy="150.95" r="1.8"/>
<circle cx="377.03" cy="148.53" r="1.8"/>
<circle cx="378.8" cy="145.98" r="1.8"/>
<circle cx="380.57" cy="143.59" r="1.8"/>
<circle cx="382.34" cy="141.92" r="1.8"/>
<circle cx="384.11" cy="139.08" r="1.8"/>
<circle cx="385.88" cy="136.61" r="1.8"/>
<circle cx="387.65" cy="132.42" r="1.8"/>
<circle cx="389.42" cy="130.35" r="1.8"/>
<circle cx="391.19" cy="127.28" r="1.8"/>
<circle cx="392.96" cy="124.12" r="1.8"/>
<circle cx="394.73" cy="121.78" r="1.8"/>
<circle cx="396.5" cy="119.15" r="1.8"/>
<circle cx="398.27" cy="115.77" r="1.8"/>
<circle cx="400.04" cy="112.58" r="1.8"/>
<circle cx="401.81" cy="108.73" r="1.8"/>
<circle cx="403.58" cy="105.93" r="1.8"/>
<circle cx="405.35" cy="103.76" r="1.8"/>
<circle cx="407.12" cy="99.85" r="1.8"/>
<circle cx="408.89" cy="96.75" r="1.8"/>
<circle cx="410.66" cy="94.53" r="1.8"/>
<circle cx="412.43" cy="91.06" r="1.8"/>
<circle cx="414.2" cy="88.88" r="1.8"/>
<circle cx="415.97" cy="84.9" r="1.8"/>
<circle cx="417.74" cy="82.3" r="1.8"/>
<circle cx="419.51" cy="79.93" r="1.8"/>
<circle cx="421.28" cy="76.83" r="1.8"/>
<circle cx="423.05" cy="73.67" r="1.8"/>
<circle cx="424.82" cy="71.39" r="1.8"/>
<circle cx="426.59" cy="68.43" r="1.8"/>
<circle cx="428.36" cy="65.83" r="1.8"/>
<circle cx="430.13" cy="64.11" r="1.8"/>
<circle cx="431.9" cy="61.58" r="1.8"/>
<circle cx="433.67" cy="58.27" r="1.8"/>
<circle cx="435.44" cy="57.17" r="1.8"/>
<circle cx="437.21" cy="55.69" r="1.8"/>
<circle cx="438.98" cy="53.47" r="1.8"/>
<circle cx="440.75" cy="52.46" r="1.8"/>
<circle cx="442.52" cy="49.78" r="1.8"/>
<circle cx="444.29" cy="48.76" r="1.8"/>
<circle cx="446.06" cy="47.2" r="1.8"/>
<circle cx="447.83" cy="46.22" r="1.8"/>
<circle cx="449.6" cy="45.56" r="1.8"/>
<circle cx="451.37" cy="44.55" r="1.8"/>
<circle cx="453.14" cy="44.36" r="1.8"/>
<circle cx="454.91" cy="44.37" r="1.8"/>
<circle cx="456.68" cy="44.34" r="1.8"/>
<circle cx="458.45" cy="44.06" r="1.8"/>
<circle cx="460.22" cy="45.2" r="1.8"/>
<circle cx="461.99" cy="43.54" r="1.8"/>
<circle cx="463.76" cy="45.76" r="1.8"/>
<circle cx="465.53" cy="45.77" r="1.8"/>
<circle cx="467.3" cy="47.32" r="1.8"/>
<circle cx="469.07" cy="48.83" r="1.8"/>
<circle cx="470.84" cy="49.31" r="1.8"/>
<circle cx="472.61" cy="51.01" r="1.8"/>
<circle cx="474.38" cy="52.75" r="1.8"/>
<circle cx="476.15" cy="54.44" r="1.8"/>
<circle cx="477.92" cy="57.23" r="1.8"/>
<circle cx="479.69" cy="59.22" r="1.8"/>
<circle cx="481.46" cy="61.85" r="1.8"/>
<circle cx="483.23" cy="65.08" r="1.8"/>
<circle cx="485.01" cy="68.15" r="1.8"/>
<circle cx="486.78" cy="71.2" r="1.8"/>
<circle cx="488.55" cy="74.89" r="1.8"/>
<circle cx="490.32" cy="78.62" r="1.8"/>
<circle cx="492.09" cy="83.15" r="1.8"/>
<circle cx="493.86" cy="86.78" r="1.8"/>
<circle cx="495.63" cy="91.1" r="1.8"/>
<circle cx="497.4" cy="95.8" r="1.8"/>
<circle cx="499.17" cy="100.49" r="1.8"/>
<circle cx="500.94" cy="105.15" r="1.8"/>
<circle cx="502.71" cy="110.73" r="1.8"/>
<circle cx="504.48" cy="115.99" r="1.8"/>
<circle cx="506.25" cy="121.89" r="1.8"/>
<circle cx="508.02" cy="127.65" r="1.8"/>
<circle cx="509.79" cy="133.51" r="1.8"/>
<circle cx="511.56" cy="139.74" r="1.8"/>
<circle cx="513.33" cy="145.81" r="1.8"/>
<circle cx="515.1" cy="152.46" r="1.8"/>
<circle cx="516.87" cy="158.9" r="1.8"/>
<circle cx="518.64" cy="165.78" r="1.8"/>
<circle cx="520.41" cy="172.55" r="1.8"/>
</g>
<rect x="350" y="20.3" width="98.55" height="24.5" fill="#fff" stroke="#959595" stroke-width="0.6"/>
<path d="M352.2 24.9h13.0" stroke="#505050" stroke-width="0.6"/>
<path d="M352.2 32.7h13.0" stroke="#ff3030" stroke-width="0.4"/>
<use href="#st" x="358.7" y="32.7" stroke="#ff0a0a"/>
<path d="M352.2 40h13.0" stroke="#ffff00" stroke-width="0.45"/>
<circle cx="358.7" cy="40" r="1.8" fill="#fff" stroke="#fff200" stroke-width="0.9"/>
<g class="lg">
<text x="366.8" y="27.05">Exact</text>
<text x="366.8" y="34.85">The posterior solution <tspan class="eps">ϵ</tspan>=0.0001</text>
<text x="366.8" y="42.15">The posterior solution <tspan class="eps">ϵ</tspan>=0.00001</text>
</g>
<text class="pl" x="287.3" y="192.8">(b)</text>
<rect x="202.8" y="227.65" width="197.4" height="155.9" fill="#fff" stroke="#a8a8a8" stroke-width="0.75"/>
<path d="M202.8 383.55v-2.2M202.8 227.65v2.2M231 383.55v-2.2M231 227.65v2.2M259.2 383.55v-2.2M259.2 227.65v2.2M287.4 383.55v-2.2M287.4 227.65v2.2M315.6 383.55v-2.2M315.6 227.65v2.2M343.8 383.55v-2.2M343.8 227.65v2.2M372 383.55v-2.2M372 227.65v2.2M400.2 383.55v-2.2M400.2 227.65v2.2M202.8 383.55h2.2M400.2 383.55h-2.2M202.8 367.96h2.2M400.2 367.96h-2.2M202.8 352.37h2.2M400.2 352.37h-2.2M202.8 336.78h2.2M400.2 336.78h-2.2M202.8 321.19h2.2M400.2 321.19h-2.2M202.8 305.6h2.2M400.2 305.6h-2.2M202.8 290.01h2.2M400.2 290.01h-2.2M202.8 274.42h2.2M400.2 274.42h-2.2M202.8 258.83h2.2M400.2 258.83h-2.2M202.8 243.24h2.2M400.2 243.24h-2.2M202.8 227.65h2.2M400.2 227.65h-2.2" stroke="#a8a8a8" stroke-width="0.75" fill="none"/>
<g class="tl">
<text x="202.8" y="392.15" text-anchor="middle">0</text>
<text x="231" y="392.15" text-anchor="middle">0.5</text>
<text x="259.2" y="392.15" text-anchor="middle">1</text>
<text x="287.4" y="392.15" text-anchor="middle">1.5</text>
<text x="315.6" y="392.15" text-anchor="middle">2</text>
<text x="343.8" y="392.15" text-anchor="middle">2.5</text>
<text x="372" y="392.15" text-anchor="middle">3</text>
<text x="400.2" y="392.15" text-anchor="middle">3.5</text>
<text x="199.7" y="385.75" text-anchor="end">0</text>
<text x="199.7" y="370.16" text-anchor="end">0.2</text>
<text x="199.7" y="354.57" text-anchor="end">0.4</text>
<text x="199.7" y="338.98" text-anchor="end">0.6</text>
<text x="199.7" y="323.39" text-anchor="end">0.8</text>
<text x="199.7" y="307.8" text-anchor="end">1</text>
<text x="199.7" y="292.21" text-anchor="end">1.2</text>
<text x="199.7" y="276.62" text-anchor="end">1.4</text>
<text x="199.7" y="261.03" text-anchor="end">1.6</text>
<text x="199.7" y="245.44" text-anchor="end">1.8</text>
<text x="199.7" y="229.85" text-anchor="end">2</text>
</g>
<text class="al xl" x="301.5" y="401.55" text-anchor="middle">r</text>
<text class="al" transform="translate(188 387.45) rotate(-90)">The excat solution and its approximate solution for<tspan class="phi" dx="5.8">ϕ(r)</tspan></text>
<polyline points="202.8,383.55 203.91,383.52 205.03,383.43 206.14,383.28 207.26,383.06 208.37,382.79 209.49,382.46 210.6,382.06 211.72,381.61 212.83,381.1 213.94,380.53 215.06,379.9 216.17,379.21 217.29,378.46 218.4,377.66 219.52,376.8 220.63,375.89 221.74,374.92 222.86,373.9 223.97,372.82 225.09,371.69 226.2,370.51 227.32,369.28 228.43,368 229.55,366.67 230.66,365.29 231.77,363.87 232.89,362.4 234,360.89 235.12,359.33 236.23,357.74 237.35,356.1 238.46,354.42 239.57,352.71 240.69,350.96 241.8,349.17 242.92,347.35 244.03,345.5 245.15,343.62 246.26,341.71 247.38,339.77 248.49,337.81 249.6,335.82 250.72,333.81 251.83,331.78 252.95,329.73 254.06,327.66 255.18,325.58 256.29,323.48 257.4,321.38 258.52,319.26 259.63,317.13 260.75,315 261.86,312.86 262.98,310.72 264.09,308.57 265.21,306.43 266.32,304.29 267.43,302.16 268.55,300.03 269.66,297.91 270.78,295.81 271.89,293.71 273.01,291.63 274.12,289.57 275.23,287.52 276.35,285.49 277.46,283.49 278.58,281.51 279.69,279.56 280.81,277.63 281.92,275.74 283.04,273.87 284.15,272.04 285.26,270.25 286.38,268.49 287.49,266.78 288.61,265.1 289.72,263.47 290.84,261.88 291.95,260.34 293.06,258.85 294.18,257.41 295.29,256.02 296.41,254.69 297.52,253.41 298.64,252.19 299.75,251.02 300.87,249.92 301.98,248.88 303.09,247.91 304.21,247 305.32,246.15 306.44,245.38 307.55,244.68 308.67,244.04 309.78,243.48 310.89,243 312.01,242.59 313.12,242.25 314.24,242 315.35,241.82 316.47,241.72 317.58,241.71 318.7,241.78 319.81,241.93 320.92,242.16 322.04,242.49 323.15,242.89 324.27,243.39 325.38,243.97 326.5,244.65 327.61,245.41 328.72,246.26 329.84,247.21 330.95,248.24 332.07,249.37 333.18,250.59 334.3,251.91 335.41,253.31 336.53,254.81 337.64,256.41 338.75,258.1 339.87,259.88 340.98,261.76 342.1,263.73 343.21,265.79 344.33,267.95 345.44,270.21 346.55,272.56 347.67,275 348.78,277.54 349.9,280.16 351.01,282.89 352.13,285.7 353.24,288.61 354.36,291.6 355.47,294.69 356.58,297.87 357.7,301.14 358.81,304.49 359.93,307.93 361.04,311.46 362.16,315.08 363.27,318.78 364.38,322.56 365.5,326.42 366.61,330.37 367.73,334.4 368.84,338.5 369.96,342.68 371.07,346.94 372.19,351.27 373.3,355.68 374.41,360.16 375.53,364.7 376.64,369.32 377.76,374 378.87,378.74 379.99,383.55" fill="none" stroke="#505050" stroke-width="0.6"/>
<polyline points="202.8,383.55 204.57,383.48 206.34,383.13 208.12,382.76 209.89,382.53 211.66,382.08 213.43,381.3 215.2,379.61 216.97,378.84 218.75,378.53 220.52,377.46 222.29,377.09 224.06,376 225.83,375.13 227.61,369.48 229.38,369.01 231.15,370.21 232.92,366.67 234.69,367.37 236.47,364.27 238.24,357.9 240.01,356.23 241.78,355.45 243.55,355.11 245.32,348.79 247.1,346.76 248.87,346.06 250.64,347.94 252.41,345.67 254.18,338.54 255.96,333.17 257.73,331.22 259.5,327.92 261.27,327.36 263.04,327.16 264.82,317.63 266.59,311.65 268.36,317.51 270.13,319.04 271.9,303.83 273.67,310.05 275.45,300.34 277.22,306.79 278.99,295.83 280.76,291.01 282.53,293.08 284.31,293.66 286.08,285.6 287.85,292.5 289.62,287.63 291.39,283.91 293.16,274.81 294.94,284.23 296.71,271.15 298.48,270.78 300.25,266.58 302.02,273 303.8,272.31 305.57,274.23 307.34,264.11 309.11,261.15 310.88,264.64 312.66,267.5 314.43,270.2 316.2,261.5 317.97,260.88 319.74,273.2 321.51,271.61 323.29,266.56 325.06,262.96 326.83,272.17 328.6,273.79 330.37,271.84 332.15,272.44 333.92,281 335.69,271.28 337.46,278.03 339.23,276.69 341,286.95 342.78,279.9 344.55,285.73 346.32,293.35 348.09,290.61 349.86,297.92 351.64,299.37 353.41,308.87 355.18,310.35 356.95,312.13 358.72,318.48 360.5,322.69 362.27,327.95 364.04,329.24 365.81,337.38 367.58,342.21 369.35,350.13 371.13,353.58 372.9,360.94 374.67,363.92 376.44,371.26 378.21,377.91 379.99,383.55" fill="none" stroke="#ff3030" stroke-width="0.4"/>
<g stroke="#ff0a0a">
<use href="#st" x="202.8" y="383.55"/>
<use href="#st" x="204.57" y="383.48"/>
<use href="#st" x="206.34" y="383.13"/>
<use href="#st" x="208.12" y="382.76"/>
<use href="#st" x="209.89" y="382.53"/>
<use href="#st" x="211.66" y="382.08"/>
<use href="#st" x="213.43" y="381.3"/>
<use href="#st" x="215.2" y="379.61"/>
<use href="#st" x="216.97" y="378.84"/>
<use href="#st" x="218.75" y="378.53"/>
<use href="#st" x="220.52" y="377.46"/>
<use href="#st" x="222.29" y="377.09"/>
<use href="#st" x="224.06" y="376"/>
<use href="#st" x="225.83" y="375.13"/>
<use href="#st" x="227.61" y="369.48"/>
<use href="#st" x="229.38" y="369.01"/>
<use href="#st" x="231.15" y="370.21"/>
<use href="#st" x="232.92" y="366.67"/>
<use href="#st" x="234.69" y="367.37"/>
<use href="#st" x="236.47" y="364.27"/>
<use href="#st" x="238.24" y="357.9"/>
<use href="#st" x="240.01" y="356.23"/>
<use href="#st" x="241.78" y="355.45"/>
<use href="#st" x="243.55" y="355.11"/>
<use href="#st" x="245.32" y="348.79"/>
<use href="#st" x="247.1" y="346.76"/>
<use href="#st" x="248.87" y="346.06"/>
<use href="#st" x="250.64" y="347.94"/>
<use href="#st" x="252.41" y="345.67"/>
<use href="#st" x="254.18" y="338.54"/>
<use href="#st" x="255.96" y="333.17"/>
<use href="#st" x="257.73" y="331.22"/>
<use href="#st" x="259.5" y="327.92"/>
<use href="#st" x="261.27" y="327.36"/>
<use href="#st" x="263.04" y="327.16"/>
<use href="#st" x="264.82" y="317.63"/>
<use href="#st" x="266.59" y="311.65"/>
<use href="#st" x="268.36" y="317.51"/>
<use href="#st" x="270.13" y="319.04"/>
<use href="#st" x="271.9" y="303.83"/>
<use href="#st" x="273.67" y="310.05"/>
<use href="#st" x="275.45" y="300.34"/>
<use href="#st" x="277.22" y="306.79"/>
<use href="#st" x="278.99" y="295.83"/>
<use href="#st" x="280.76" y="291.01"/>
<use href="#st" x="282.53" y="293.08"/>
<use href="#st" x="284.31" y="293.66"/>
<use href="#st" x="286.08" y="285.6"/>
<use href="#st" x="287.85" y="292.5"/>
<use href="#st" x="289.62" y="287.63"/>
<use href="#st" x="291.39" y="283.91"/>
<use href="#st" x="293.16" y="274.81"/>
<use href="#st" x="294.94" y="284.23"/>
<use href="#st" x="296.71" y="271.15"/>
<use href="#st" x="298.48" y="270.78"/>
<use href="#st" x="300.25" y="266.58"/>
<use href="#st" x="302.02" y="273"/>
<use href="#st" x="303.8" y="272.31"/>
<use href="#st" x="305.57" y="274.23"/>
<use href="#st" x="307.34" y="264.11"/>
<use href="#st" x="309.11" y="261.15"/>
<use href="#st" x="310.88" y="264.64"/>
<use href="#st" x="312.66" y="267.5"/>
<use href="#st" x="314.43" y="270.2"/>
<use href="#st" x="316.2" y="261.5"/>
<use href="#st" x="317.97" y="260.88"/>
<use href="#st" x="319.74" y="273.2"/>
<use href="#st" x="321.51" y="271.61"/>
<use href="#st" x="323.29" y="266.56"/>
<use href="#st" x="325.06" y="262.96"/>
<use href="#st" x="326.83" y="272.17"/>
<use href="#st" x="328.6" y="273.79"/>
<use href="#st" x="330.37" y="271.84"/>
<use href="#st" x="332.15" y="272.44"/>
<use href="#st" x="333.92" y="281"/>
<use href="#st" x="335.69" y="271.28"/>
<use href="#st" x="337.46" y="278.03"/>
<use href="#st" x="339.23" y="276.69"/>
<use href="#st" x="341" y="286.95"/>
<use href="#st" x="342.78" y="279.9"/>
<use href="#st" x="344.55" y="285.73"/>
<use href="#st" x="346.32" y="293.35"/>
<use href="#st" x="348.09" y="290.61"/>
<use href="#st" x="349.86" y="297.92"/>
<use href="#st" x="351.64" y="299.37"/>
<use href="#st" x="353.41" y="308.87"/>
<use href="#st" x="355.18" y="310.35"/>
<use href="#st" x="356.95" y="312.13"/>
<use href="#st" x="358.72" y="318.48"/>
<use href="#st" x="360.5" y="322.69"/>
<use href="#st" x="362.27" y="327.95"/>
<use href="#st" x="364.04" y="329.24"/>
<use href="#st" x="365.81" y="337.38"/>
<use href="#st" x="367.58" y="342.21"/>
<use href="#st" x="369.35" y="350.13"/>
<use href="#st" x="371.13" y="353.58"/>
<use href="#st" x="372.9" y="360.94"/>
<use href="#st" x="374.67" y="363.92"/>
<use href="#st" x="376.44" y="371.26"/>
<use href="#st" x="378.21" y="377.91"/>
<use href="#st" x="379.99" y="383.55"/>
</g>
<polyline points="202.8,383.55 204.57,383.49 206.34,383.3 208.12,383 209.89,382.46 211.66,381.97 213.43,381.35 215.2,380.38 216.97,379.61 218.75,378.45 220.52,377.23 222.29,376.1 224.06,374.69 225.83,373.21 227.61,371.54 229.38,370.09 231.15,368.23 232.92,366.12 234.69,363.86 236.47,361.85 238.24,359.39 240.01,357.39 241.78,355.4 243.55,352.89 245.32,351.04 247.1,348.2 248.87,345.66 250.64,342.58 252.41,339.77 254.18,337.54 255.96,334.82 257.73,332.48 259.5,329.09 261.27,326.12 263.04,323.22 264.82,320.99 266.59,316.89 268.36,314.47 270.13,312.3 271.9,309.75 273.67,306.94 275.45,304.03 277.22,301.47 278.99,298.65 280.76,295.98 282.53,293.22 284.31,290.92 286.08,289.18 287.85,286.7 289.62,284.9 291.39,282.93 293.16,279.8 294.94,279.04 296.71,276.15 298.48,275.61 300.25,273.82 302.02,272.04 303.8,271.29 305.57,270.01 307.34,269.34 309.11,268.63 310.88,267.81 312.66,267.53 314.43,266.12 316.2,266.78 317.97,265.88 319.74,268.1 321.51,267.17 323.29,267.43 325.06,268.53 326.83,268.76 328.6,270.05 330.37,271.73 332.15,272.85 333.92,273.38 335.69,276.42 337.46,278.43 339.23,281 341,283.17 342.78,286.34" fill="none" stroke="#ffff00" stroke-width="2.4" stroke-opacity="0.4" stroke-linejoin="round" stroke-linecap="round"/>
<polyline points="202.8,383.55 204.57,383.49 206.34,383.3 208.12,383 209.89,382.46 211.66,381.97 213.43,381.35 215.2,380.38 216.97,379.61 218.75,378.45 220.52,377.23 222.29,376.1 224.06,374.69 225.83,373.21 227.61,371.54 229.38,370.09 231.15,368.23 232.92,366.12 234.69,363.86 236.47,361.85 238.24,359.39 240.01,357.39 241.78,355.4 243.55,352.89 245.32,351.04 247.1,348.2 248.87,345.66 250.64,342.58 252.41,339.77 254.18,337.54 255.96,334.82 257.73,332.48 259.5,329.09 261.27,326.12 263.04,323.22 264.82,320.99 266.59,316.89 268.36,314.47 270.13,312.3 271.9,309.75 273.67,306.94 275.45,304.03 277.22,301.47 278.99,298.65 280.76,295.98 282.53,293.22 284.31,290.92 286.08,289.18 287.85,286.7 289.62,284.9 291.39,282.93 293.16,279.8 294.94,279.04 296.71,276.15 298.48,275.61 300.25,273.82 302.02,272.04 303.8,271.29 305.57,270.01 307.34,269.34 309.11,268.63 310.88,267.81 312.66,267.53 314.43,266.12 316.2,266.78 317.97,265.88 319.74,268.1 321.51,267.17 323.29,267.43 325.06,268.53 326.83,268.76 328.6,270.05 330.37,271.73 332.15,272.85 333.92,273.38 335.69,276.42 337.46,278.43 339.23,281 341,283.17 342.78,286.34 344.55,288.73 346.32,290.9 348.09,294.58 349.86,298.13 351.64,301.65 353.41,305.29 355.18,309.54 356.95,313.39 358.72,317.96 360.5,322.68 362.27,327.08 364.04,332.78 365.81,337.48 367.58,342.57 369.35,348.14 371.13,353.58 372.9,359.34 374.67,365.19 376.44,370.94 378.21,377.25 379.99,383.55" fill="none" stroke="#ffff00" stroke-width="0.45"/>
<g fill="none" stroke="#fff200" stroke-width="0.9">
<circle cx="202.8" cy="383.55" r="1.8"/>
<circle cx="204.57" cy="383.49" r="1.8"/>
<circle cx="206.34" cy="383.3" r="1.8"/>
<circle cx="208.12" cy="383" r="1.8"/>
<circle cx="209.89" cy="382.46" r="1.8"/>
<circle cx="211.66" cy="381.97" r="1.8"/>
<circle cx="213.43" cy="381.35" r="1.8"/>
<circle cx="215.2" cy="380.38" r="1.8"/>
<circle cx="216.97" cy="379.61" r="1.8"/>
<circle cx="218.75" cy="378.45" r="1.8"/>
<circle cx="220.52" cy="377.23" r="1.8"/>
<circle cx="222.29" cy="376.1" r="1.8"/>
<circle cx="224.06" cy="374.69" r="1.8"/>
<circle cx="225.83" cy="373.21" r="1.8"/>
<circle cx="227.61" cy="371.54" r="1.8"/>
<circle cx="229.38" cy="370.09" r="1.8"/>
<circle cx="231.15" cy="368.23" r="1.8"/>
<circle cx="232.92" cy="366.12" r="1.8"/>
<circle cx="234.69" cy="363.86" r="1.8"/>
<circle cx="236.47" cy="361.85" r="1.8"/>
<circle cx="238.24" cy="359.39" r="1.8"/>
<circle cx="240.01" cy="357.39" r="1.8"/>
<circle cx="241.78" cy="355.4" r="1.8"/>
<circle cx="243.55" cy="352.89" r="1.8"/>
<circle cx="245.32" cy="351.04" r="1.8"/>
<circle cx="247.1" cy="348.2" r="1.8"/>
<circle cx="248.87" cy="345.66" r="1.8"/>
<circle cx="250.64" cy="342.58" r="1.8"/>
<circle cx="252.41" cy="339.77" r="1.8"/>
<circle cx="254.18" cy="337.54" r="1.8"/>
<circle cx="255.96" cy="334.82" r="1.8"/>
<circle cx="257.73" cy="332.48" r="1.8"/>
<circle cx="259.5" cy="329.09" r="1.8"/>
<circle cx="261.27" cy="326.12" r="1.8"/>
<circle cx="263.04" cy="323.22" r="1.8"/>
<circle cx="264.82" cy="320.99" r="1.8"/>
<circle cx="266.59" cy="316.89" r="1.8"/>
<circle cx="268.36" cy="314.47" r="1.8"/>
<circle cx="270.13" cy="312.3" r="1.8"/>
<circle cx="271.9" cy="309.75" r="1.8"/>
<circle cx="273.67" cy="306.94" r="1.8"/>
<circle cx="275.45" cy="304.03" r="1.8"/>
<circle cx="277.22" cy="301.47" r="1.8"/>
<circle cx="278.99" cy="298.65" r="1.8"/>
<circle cx="280.76" cy="295.98" r="1.8"/>
<circle cx="282.53" cy="293.22" r="1.8"/>
<circle cx="284.31" cy="290.92" r="1.8"/>
<circle cx="286.08" cy="289.18" r="1.8"/>
<circle cx="287.85" cy="286.7" r="1.8"/>
<circle cx="289.62" cy="284.9" r="1.8"/>
<circle cx="291.39" cy="282.93" r="1.8"/>
<circle cx="293.16" cy="279.8" r="1.8"/>
<circle cx="294.94" cy="279.04" r="1.8"/>
<circle cx="296.71" cy="276.15" r="1.8"/>
<circle cx="298.48" cy="275.61" r="1.8"/>
<circle cx="300.25" cy="273.82" r="1.8"/>
<circle cx="302.02" cy="272.04" r="1.8"/>
<circle cx="303.8" cy="271.29" r="1.8"/>
<circle cx="305.57" cy="270.01" r="1.8"/>
<circle cx="307.34" cy="269.34" r="1.8"/>
<circle cx="309.11" cy="268.63" r="1.8"/>
<circle cx="310.88" cy="267.81" r="1.8"/>
<circle cx="312.66" cy="267.53" r="1.8"/>
<circle cx="314.43" cy="266.12" r="1.8"/>
<circle cx="316.2" cy="266.78" r="1.8"/>
<circle cx="317.97" cy="265.88" r="1.8"/>
<circle cx="319.74" cy="268.1" r="1.8"/>
<circle cx="321.51" cy="267.17" r="1.8"/>
<circle cx="323.29" cy="267.43" r="1.8"/>
<circle cx="325.06" cy="268.53" r="1.8"/>
<circle cx="326.83" cy="268.76" r="1.8"/>
<circle cx="328.6" cy="270.05" r="1.8"/>
<circle cx="330.37" cy="271.73" r="1.8"/>
<circle cx="332.15" cy="272.85" r="1.8"/>
<circle cx="333.92" cy="273.38" r="1.8"/>
<circle cx="335.69" cy="276.42" r="1.8"/>
<circle cx="337.46" cy="278.43" r="1.8"/>
<circle cx="339.23" cy="281" r="1.8"/>
<circle cx="341" cy="283.17" r="1.8"/>
<circle cx="342.78" cy="286.34" r="1.8"/>
<circle cx="344.55" cy="288.73" r="1.8"/>
<circle cx="346.32" cy="290.9" r="1.8"/>
<circle cx="348.09" cy="294.58" r="1.8"/>
<circle cx="349.86" cy="298.13" r="1.8"/>
<circle cx="351.64" cy="301.65" r="1.8"/>
<circle cx="353.41" cy="305.29" r="1.8"/>
<circle cx="355.18" cy="309.54" r="1.8"/>
<circle cx="356.95" cy="313.39" r="1.8"/>
<circle cx="358.72" cy="317.96" r="1.8"/>
<circle cx="360.5" cy="322.68" r="1.8"/>
<circle cx="362.27" cy="327.08" r="1.8"/>
<circle cx="364.04" cy="332.78" r="1.8"/>
<circle cx="365.81" cy="337.48" r="1.8"/>
<circle cx="367.58" cy="342.57" r="1.8"/>
<circle cx="369.35" cy="348.14" r="1.8"/>
<circle cx="371.13" cy="353.58" r="1.8"/>
<circle cx="372.9" cy="359.34" r="1.8"/>
<circle cx="374.67" cy="365.19" r="1.8"/>
<circle cx="376.44" cy="370.94" r="1.8"/>
<circle cx="378.21" cy="377.25" r="1.8"/>
<circle cx="379.99" cy="383.55" r="1.8"/>
</g>
<rect x="211.85" y="233.5" width="98.55" height="24.3" fill="#fff" stroke="#959595" stroke-width="0.6"/>
<path d="M214.05 237.55h13.0" stroke="#505050" stroke-width="0.6"/>
<path d="M214.05 245.35h13.0" stroke="#ff3030" stroke-width="0.4"/>
<use href="#st" x="220.55" y="245.35" stroke="#ff0a0a"/>
<path d="M214.05 252.85h13.0" stroke="#ffff00" stroke-width="0.45"/>
<circle cx="220.55" cy="252.85" r="1.8" fill="#fff" stroke="#fff200" stroke-width="0.9"/>
<g class="lg">
<text x="229" y="239.65">Exact</text>
<text x="229" y="247.45">The posterior solution <tspan class="eps">ϵ</tspan>=0.0001</text>
<text x="229" y="254.95">The posterior solution <tspan class="eps">ϵ</tspan>=0.00001</text>
</g>
<text class="pl" x="149.6" y="404.2">(c)</text>
</svg>
</body></html>
